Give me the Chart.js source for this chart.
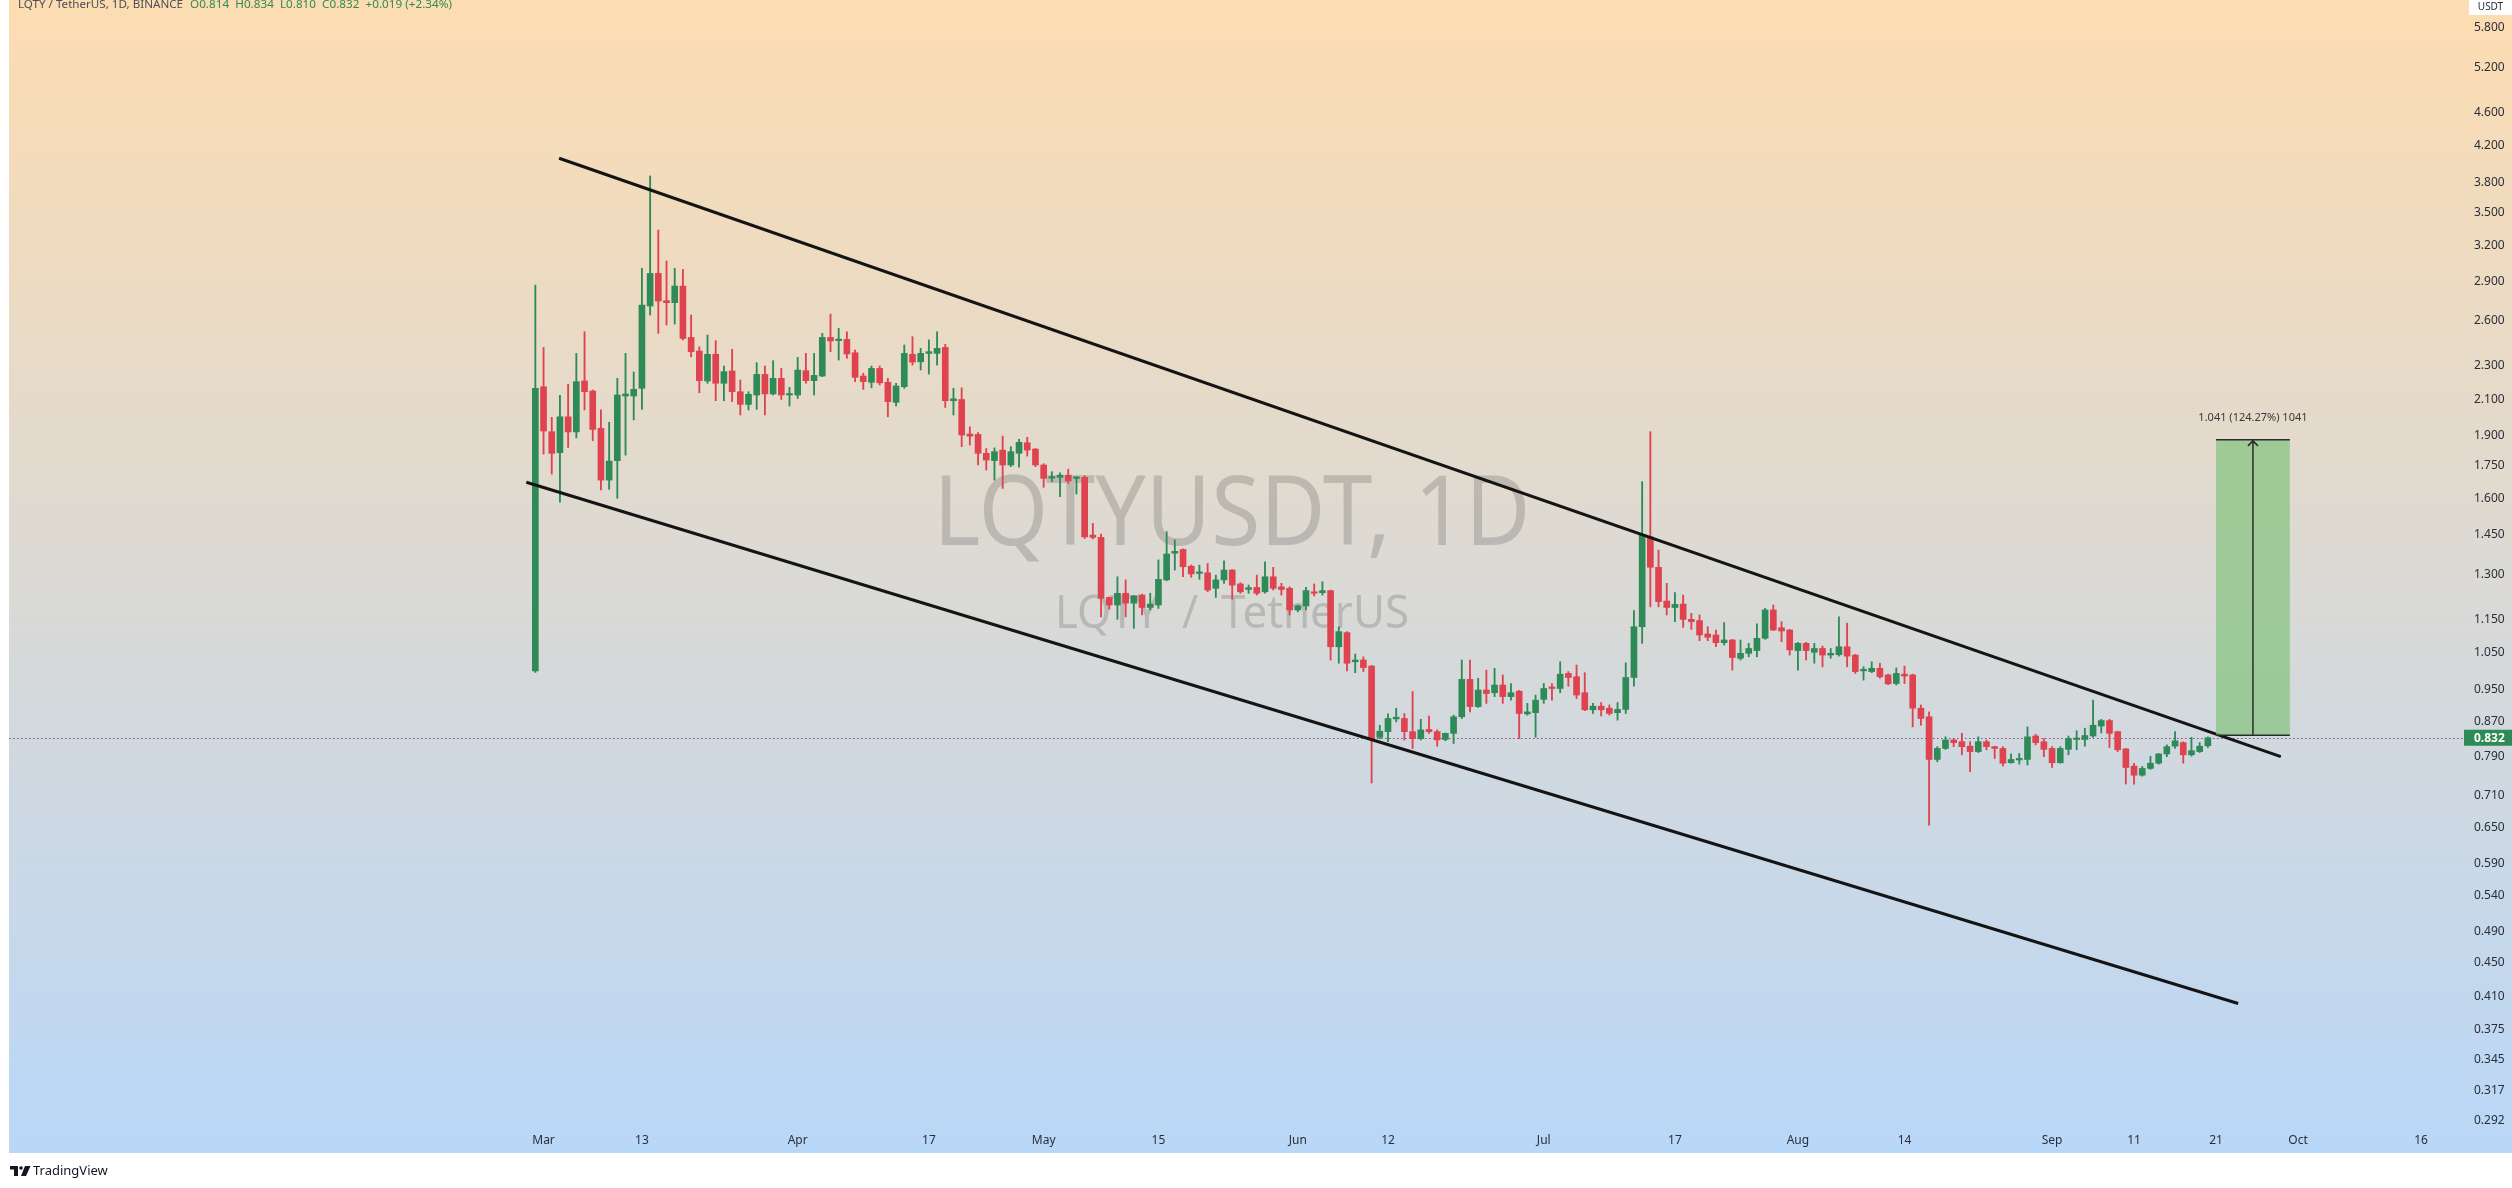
<!DOCTYPE html>
<html>
<head>
<meta charset="utf-8">
<script src="https://cdn.jsdelivr.net/npm/chart.js@4.4.1/dist/chart.umd.min.js"></script>
<style>
  html, body { margin: 0; padding: 0; background: #fff; overflow: hidden; }
  canvas { display: block; }
</style>
</head>
<body>
<canvas id="chart" width="2512" height="1188"></canvas>
<script>
// LQTY / TetherUS daily candles, index 0 = 28 Feb 2023
const opens = [
  0.999, 2.172, 1.921, 1.814, 2.001, 1.920, 2.207, 2.147, 1.939, 1.683,
  1.775, 2.118, 2.118, 2.163, 2.709, 2.962, 2.749, 2.734, 2.861, 2.486,
  2.395, 2.207, 2.374, 2.193, 2.268, 2.143, 2.070, 2.124, 2.247, 2.130,
  2.223, 2.124, 2.124, 2.270, 2.209, 2.237, 2.486, 2.464, 2.473, 2.384,
  2.237, 2.199, 2.284, 2.199, 2.082, 2.173, 2.374, 2.326, 2.380, 2.380,
  2.419, 2.091, 2.098, 1.909, 1.907, 1.811, 1.775, 1.827, 1.754, 1.811,
  1.864, 1.832, 1.754, 1.692, 1.696, 1.706, 1.691, 1.696, 1.448, 1.439,
  1.221, 1.196, 1.235, 1.202, 1.229, 1.188, 1.196, 1.281, 1.378, 1.392,
  1.330, 1.304, 1.306, 1.252, 1.281, 1.316, 1.267, 1.248, 1.255, 1.240,
  1.292, 1.257, 1.252, 1.180, 1.193, 1.240, 1.237, 1.244, 1.067, 1.109,
  1.024, 1.029, 1.012, 0.833, 0.846, 0.876, 0.877, 0.846, 0.830, 0.851,
  0.846, 0.828, 0.842, 0.881, 0.976, 0.906, 0.948, 0.941, 0.961, 0.931,
  0.945, 0.888, 0.891, 0.924, 0.956, 0.952, 0.992, 0.983, 0.941, 0.898,
  0.907, 0.902, 0.891, 0.899, 0.981, 1.127, 1.441, 1.326, 1.209, 1.188,
  1.199, 1.150, 1.146, 1.105, 1.102, 1.079, 1.087, 1.034, 1.048, 1.056,
  1.092, 1.180, 1.124, 1.117, 1.056, 1.077, 1.051, 1.062, 1.043, 1.044,
  1.067, 1.043, 0.999, 0.997, 1.006, 0.988, 0.965, 0.990, 0.988, 0.902,
  0.881, 0.784, 0.808, 0.827, 0.823, 0.813, 0.801, 0.823, 0.812, 0.808,
  0.777, 0.783, 0.784, 0.836, 0.823, 0.808, 0.777, 0.806, 0.828, 0.828,
  0.836, 0.859, 0.872, 0.846, 0.807, 0.770, 0.751, 0.765, 0.776, 0.796,
  0.813, 0.821, 0.794, 0.801, 0.814
];
const highs = [
  2.869, 2.419, 1.998, 2.122, 2.187, 2.380, 2.525, 2.153, 2.039, 1.971,
  2.223, 2.380, 2.262, 3.003, 3.866, 3.335, 3.064, 3.003, 2.994, 2.643,
  2.423, 2.502, 2.464, 2.299, 2.406, 2.213, 2.143, 2.320, 2.299, 2.333,
  2.284, 2.169, 2.354, 2.380, 2.380, 2.514, 2.650, 2.548, 2.525, 2.402,
  2.254, 2.299, 2.299, 2.223, 2.193, 2.435, 2.491, 2.413, 2.469, 2.525,
  2.440, 2.163, 2.166, 1.947, 1.916, 1.835, 1.838, 1.898, 1.844, 1.881,
  1.892, 1.835, 1.760, 1.722, 1.717, 1.734, 1.698, 1.703, 1.495, 1.452,
  1.223, 1.292, 1.281, 1.228, 1.232, 1.235, 1.353, 1.462, 1.429, 1.395,
  1.334, 1.334, 1.340, 1.298, 1.350, 1.318, 1.271, 1.263, 1.298, 1.346,
  1.326, 1.269, 1.257, 1.196, 1.255, 1.267, 1.275, 1.246, 1.127, 1.112,
  1.046, 1.038, 1.014, 0.861, 0.888, 0.902, 0.889, 0.944, 0.875, 0.883,
  0.850, 0.843, 0.885, 1.029, 1.029, 0.979, 1.001, 1.006, 0.988, 0.965,
  0.947, 0.914, 0.935, 0.965, 0.965, 1.024, 0.997, 1.015, 0.994, 0.914,
  0.916, 0.910, 0.916, 1.021, 1.178, 1.676, 1.921, 1.390, 1.269, 1.237,
  1.229, 1.169, 1.164, 1.127, 1.117, 1.140, 1.089, 1.087, 1.077, 1.136,
  1.185, 1.196, 1.143, 1.119, 1.080, 1.080, 1.077, 1.069, 1.062, 1.158,
  1.138, 1.045, 1.010, 1.024, 1.020, 0.990, 1.007, 1.012, 0.990, 0.910,
  0.893, 0.812, 0.834, 0.830, 0.842, 0.823, 0.834, 0.827, 0.813, 0.812,
  0.796, 0.797, 0.857, 0.840, 0.830, 0.812, 0.812, 0.836, 0.848, 0.854,
  0.922, 0.875, 0.875, 0.847, 0.808, 0.776, 0.769, 0.791, 0.797, 0.816,
  0.846, 0.823, 0.833, 0.821, 0.834
];
const lows = [
  0.995, 1.807, 1.711, 1.584, 1.840, 1.889, 2.039, 1.874, 1.638, 1.641,
  1.601, 1.802, 1.984, 2.042, 2.643, 2.514, 2.572, 2.579, 2.469, 2.358,
  2.137, 2.193, 2.091, 2.091, 2.086, 2.011, 2.039, 2.042, 2.011, 2.124,
  2.098, 2.061, 2.104, 2.193, 2.124, 2.233, 2.391, 2.337, 2.348, 2.203,
  2.157, 2.166, 2.183, 2.001, 2.061, 2.163, 2.305, 2.274, 2.249, 2.305,
  2.053, 2.011, 1.844, 1.852, 1.754, 1.730, 1.683, 1.645, 1.746, 1.743,
  1.797, 1.746, 1.650, 1.676, 1.608, 1.668, 1.620, 1.435, 1.433, 1.158,
  1.182, 1.150, 1.158, 1.122, 1.164, 1.180, 1.185, 1.278, 1.316, 1.292,
  1.290, 1.283, 1.240, 1.221, 1.269, 1.215, 1.235, 1.235, 1.229, 1.235,
  1.246, 1.229, 1.164, 1.174, 1.180, 1.226, 1.229, 1.029, 1.020, 0.999,
  0.994, 0.997, 0.735, 0.830, 0.823, 0.869, 0.827, 0.808, 0.827, 0.842,
  0.813, 0.825, 0.819, 0.877, 0.893, 0.904, 0.914, 0.931, 0.914, 0.922,
  0.830, 0.885, 0.833, 0.914, 0.922, 0.941, 0.958, 0.926, 0.896, 0.889,
  0.883, 0.885, 0.873, 0.889, 0.958, 1.077, 1.190, 1.190, 1.164, 1.143,
  1.125, 1.119, 1.085, 1.085, 1.067, 1.072, 1.001, 1.029, 1.038, 1.038,
  1.089, 1.115, 1.082, 1.043, 1.001, 1.029, 1.020, 1.010, 1.034, 1.040,
  1.010, 0.992, 0.974, 0.994, 0.979, 0.962, 0.961, 0.965, 0.857, 0.861,
  0.655, 0.779, 0.806, 0.812, 0.794, 0.758, 0.799, 0.805, 0.786, 0.770,
  0.776, 0.774, 0.772, 0.816, 0.790, 0.767, 0.776, 0.794, 0.805, 0.813,
  0.833, 0.843, 0.810, 0.801, 0.733, 0.733, 0.749, 0.763, 0.774, 0.790,
  0.808, 0.776, 0.791, 0.799, 0.810
];
const closes = [
  2.163, 1.925, 1.811, 2.001, 1.920, 2.203, 2.143, 1.933, 1.683, 1.773,
  2.124, 2.130, 2.157, 2.716, 2.962, 2.746, 2.734, 2.861, 2.479, 2.391,
  2.209, 2.374, 2.193, 2.264, 2.143, 2.070, 2.128, 2.247, 2.130, 2.223,
  2.124, 2.128, 2.274, 2.209, 2.241, 2.486, 2.462, 2.475, 2.376, 2.229,
  2.203, 2.284, 2.196, 2.086, 2.177, 2.380, 2.324, 2.380, 2.391, 2.413,
  2.091, 2.102, 1.904, 1.898, 1.811, 1.778, 1.819, 1.754, 1.819, 1.866,
  1.827, 1.754, 1.691, 1.698, 1.706, 1.679, 1.696, 1.441, 1.439, 1.218,
  1.196, 1.235, 1.202, 1.226, 1.188, 1.199, 1.283, 1.375, 1.385, 1.328,
  1.302, 1.308, 1.246, 1.281, 1.316, 1.263, 1.240, 1.254, 1.235, 1.292,
  1.252, 1.248, 1.180, 1.193, 1.244, 1.235, 1.244, 1.067, 1.112, 1.020,
  1.029, 1.008, 0.830, 0.847, 0.877, 0.880, 0.846, 0.830, 0.850, 0.846,
  0.827, 0.842, 0.881, 0.976, 0.906, 0.948, 0.939, 0.961, 0.931, 0.941,
  0.889, 0.893, 0.922, 0.952, 0.952, 0.990, 0.981, 0.935, 0.898, 0.907,
  0.898, 0.889, 0.899, 0.981, 1.127, 1.448, 1.326, 1.207, 1.188, 1.198,
  1.150, 1.143, 1.102, 1.095, 1.079, 1.087, 1.036, 1.048, 1.062, 1.092,
  1.180, 1.117, 1.114, 1.058, 1.077, 1.056, 1.062, 1.043, 1.048, 1.067,
  1.040, 0.997, 1.003, 1.006, 0.983, 0.964, 0.992, 0.985, 0.902, 0.877,
  0.784, 0.808, 0.827, 0.821, 0.812, 0.801, 0.823, 0.812, 0.808, 0.776,
  0.784, 0.786, 0.834, 0.821, 0.806, 0.777, 0.808, 0.830, 0.830, 0.837,
  0.861, 0.872, 0.842, 0.805, 0.767, 0.751, 0.765, 0.776, 0.796, 0.812,
  0.825, 0.794, 0.803, 0.813, 0.832
];

// Axis ticks (x = candle index)
const dateTicks = [1, 13, 32, 48, 62, 76, 93, 104, 123, 139, 154, 167, 185, 195, 205, 215, 230];
const dateLabels = ['Mar', '13', 'Apr', '17', 'May', '15', 'Jun', '12', 'Jul', '17', 'Aug', '14', 'Sep', '11', '21', 'Oct', '16'];
const priceTicks = [5.8, 5.2, 4.6, 4.2, 3.8, 3.5, 3.2, 2.9, 2.6, 2.3, 2.1, 1.9, 1.75, 1.6, 1.45, 1.3,
  1.15, 1.05, 0.95, 0.87, 0.79, 0.71, 0.65, 0.59, 0.54, 0.49, 0.45, 0.41, 0.375, 0.345, 0.317, 0.292];

// Channel lines (candle index, price)
const upperLine = [{ x: 2.9, y: 4.058 }, { x: 212.9, y: 0.790 }];
const lowerLine = [{ x: -1.1, y: 1.673 }, { x: 207.7, y: 0.4023 }];

// Price range measurement
const measureFrom = 205;
const measureTo = 214;
const measureLow = 0.8377;
const measureHigh = 1.8787;

const GREEN = '#2e8b57';
const RED = '#df4350';
const TEXT = '#2a2e39';
const FONT = '"Noto Sans", sans-serif';

const candleColors = closes.map((c, i) => (c >= opens[i] ? GREEN : RED));

// Draw text squeezed/stretched to a given width
const fitText = (ctx, text, x, y, size, width, align, weight = '') => {
  ctx.font = `${weight} ${size}px ${FONT}`;
  const w = ctx.measureText(text).width;
  ctx.save();
  ctx.translate(x, y);
  ctx.scale(width / w, 1);
  ctx.textAlign = align;
  ctx.fillText(text, 0, 0);
  ctx.restore();
};

const decor = {
  id: 'decor',
  beforeDraw(chart) {
    const { ctx } = chart;
    ctx.save();
    ctx.fillStyle = '#ffffff';
    ctx.fillRect(0, 0, chart.width, chart.height);
    const g = ctx.createLinearGradient(0, 0, 0, 1153);
    g.addColorStop(0, '#fddcb1');
    g.addColorStop(1, '#b9d7f8');
    ctx.fillStyle = g;
    ctx.fillRect(9, 0, chart.width - 9, 1153);
    ctx.restore();
  },
  beforeDatasetsDraw(chart) {
    const { ctx, chartArea, scales } = chart;
    ctx.save();
    // Watermark
    ctx.fillStyle = 'rgba(105, 105, 105, 0.3)';
    ctx.textBaseline = 'alphabetic';
    fitText(ctx, 'LQTYUSDT, 1D', 1232, 545, 96, 597, 'center');
    fitText(ctx, 'LQTY  /  TetherUS', 1232, 628, 46, 354, 'center');
    // Last price dotted line
    const y = Math.round(scales.y.getPixelForValue(closes[closes.length - 1])) + 0.5;
    ctx.strokeStyle = '#7a4f86';
    ctx.lineWidth = 1;
    ctx.setLineDash([1.5, 2.5]);
    ctx.beginPath();
    ctx.moveTo(chartArea.left, y);
    ctx.lineTo(chartArea.right + 3, y);
    ctx.stroke();
    ctx.restore();
  },
  afterDatasetsDraw(chart) {
    const { ctx, scales } = chart;
    const x0 = scales.x.getPixelForValue(measureFrom);
    const x1 = scales.x.getPixelForValue(measureTo);
    const yTop = scales.y.getPixelForValue(measureHigh);
    const yBot = scales.y.getPixelForValue(measureLow);
    const mx = (x0 + x1) / 2;
    ctx.save();
    ctx.fillStyle = 'rgba(133, 196, 127, 0.72)';
    ctx.fillRect(x0, yTop, x1 - x0, yBot - yTop);
    ctx.strokeStyle = '#2b2b2b';
    ctx.lineWidth = 1.5;
    ctx.beginPath();
    ctx.moveTo(x0, yTop); ctx.lineTo(x1, yTop);
    ctx.moveTo(x0, yBot); ctx.lineTo(x1, yBot);
    ctx.moveTo(mx, yBot); ctx.lineTo(mx, yTop + 1);
    ctx.moveTo(mx - 5, yTop + 6); ctx.lineTo(mx, yTop + 1); ctx.lineTo(mx + 5, yTop + 6);
    ctx.stroke();
    const diff = measureHigh - measureLow;
    const pct = (measureHigh / measureLow - 1) * 100;
    ctx.fillStyle = '#3a3a3a';
    ctx.font = `11px ${FONT}`;
    ctx.textAlign = 'center';
    ctx.textBaseline = 'middle';
    ctx.fillText(`${diff.toFixed(3)} (${pct.toFixed(2)}%) ${Math.round(diff * 1000)}`, mx, yTop - 22);
    ctx.restore();
  },
  afterDraw(chart) {
    const { ctx, scales, chartArea } = chart;
    ctx.save();
    // Time axis labels, placed with the x scale
    ctx.fillStyle = TEXT;
    ctx.font = `12px ${FONT}`;
    ctx.textAlign = 'center';
    ctx.textBaseline = 'middle';
    dateTicks.forEach((d, k) => {
      ctx.fillText(dateLabels[k], scales.x.getPixelForValue(d), chartArea.bottom + 13);
    });
    // Header line (cut at the top edge)
    ctx.textBaseline = 'alphabetic';
    ctx.fillStyle = '#4a4e59';
    fitText(ctx, 'LQTY / TetherUS, 1D, BINANCE', 18, 8, 11, 165, 'left');
    ctx.fillStyle = GREEN;
    fitText(ctx, 'O0.814  H0.834  L0.810  C0.832  +0.019 (+2.34%)', 190, 8, 11, 262, 'left');
    // Currency box
    ctx.fillStyle = '#ffffff';
    ctx.fillRect(2469, 0, 43, 15);
    ctx.fillStyle = TEXT;
    ctx.font = `10px ${FONT}`;
    ctx.textAlign = 'center';
    ctx.textBaseline = 'middle';
    ctx.fillText('USDT', 2490.5, 7);
    // Last price label
    const last = closes[closes.length - 1];
    const y = scales.y.getPixelForValue(last);
    ctx.fillStyle = GREEN;
    ctx.fillRect(2464, y - 8, 48, 16);
    ctx.fillStyle = '#ffffff';
    ctx.font = `bold 12px ${FONT}`;
    ctx.textAlign = 'left';
    ctx.fillText(last.toFixed(3), 2474, y + 0.5);
    // TradingView mark
    ctx.fillStyle = '#131722';
    ctx.fillRect(10, 1166, 8, 3.5);
    ctx.fillRect(14, 1166, 4, 10);
    ctx.beginPath();
    ctx.arc(21, 1168, 1.8, 0, Math.PI * 2);
    ctx.fill();
    ctx.beginPath();
    ctx.moveTo(25, 1166); ctx.lineTo(30.5, 1166); ctx.lineTo(26, 1176); ctx.lineTo(21, 1176);
    ctx.closePath();
    ctx.fill();
    ctx.font = `13px ${FONT}`;
    ctx.textAlign = 'left';
    ctx.fillText('TradingView', 33, 1171);
    ctx.restore();
  }
};

// Build datasets
const wickData = highs.map((h, i) => ({ x: i, y: [lows[i], h] }));
const bodyData = opens.map((o, i) => ({ x: i, y: [o, closes[i]] }));

new Chart(document.getElementById('chart'), {
  type: 'bar',
  data: {
    datasets: [
      {
        type: 'line', data: upperLine, borderColor: '#141414', borderWidth: 3,
        pointRadius: 0, order: 0
      },
      {
        type: 'line', data: lowerLine, borderColor: '#141414', borderWidth: 3,
        pointRadius: 0, order: 0
      },
      {
        data: bodyData, backgroundColor: candleColors, barThickness: 6,
        minBarLength: 1.5, grouped: false, borderWidth: 0, order: 1
      },
      {
        data: wickData, backgroundColor: candleColors, barThickness: 1.2,
        minBarLength: 1, grouped: false, borderWidth: 0, order: 2
      }
    ]
  },
  options: {
    responsive: false,
    animation: false,
    devicePixelRatio: 1,
    layout: { autoPadding: false, padding: { left: 9, right: 0, top: 0, bottom: 35 } },
    plugins: { legend: { display: false }, tooltip: { enabled: false } },
    scales: {
      x: {
        type: 'linear',
        min: -64.2,
        max: 235,
        offset: false,
        grid: { display: false, drawTicks: false },
        border: { display: false },
        afterBuildTicks: s => { s.ticks = dateTicks.map(v => ({ value: v })); },
        afterFit: s => { s.height = 25; s.paddingLeft = 0; s.paddingRight = 0; },
        ticks: { display: false }
      },
      y: {
        type: 'logarithmic',
        position: 'right',
        min: 0.2862,
        max: 6.255,
        grid: { display: false, drawTicks: false },
        border: { display: false },
        afterBuildTicks: s => { s.ticks = priceTicks.map(v => ({ value: v })); },
        afterFit: s => { s.width = 50; s.paddingTop = 0; s.paddingBottom = 0; },
        ticks: {
          padding: 12,
          color: TEXT,
          font: { family: FONT, size: 12 },
          callback: v => Number(v).toFixed(3)
        }
      }
    }
  },
  plugins: [decor]
});
</script>
</body>
</html>
